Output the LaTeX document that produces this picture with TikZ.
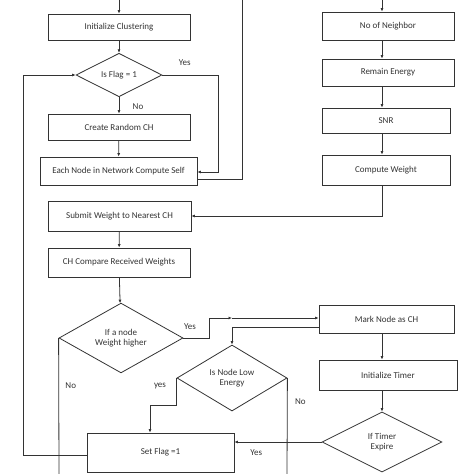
\documentclass[tikz,border=0pt]{standalone}
\usepackage{fontspec}
\setmainfont{Carlito}
\usetikzlibrary{shapes.geometric, arrows.meta}

\tikzset{
	blk/.style={draw, rectangle, inner sep=1pt, font=\fontsize{9}{10.5}\selectfont},
	dec/.style={draw, diamond, inner sep=0pt, align=center, font=\fontsize{9}{10.5}\selectfont},
	arr/.style={-{Latex[length=3.5pt, width=3pt]}},
	lbl/.style={font=\fontsize{9}{10.5}\selectfont}
}

\begin{document}
\begin{tikzpicture}[x=1pt, y=-1pt, line width=0.8pt, draw=black!80, color=black!80]
	\useasboundingbox (0,0) rectangle (474,474);

	% left column
	\node [blk, minimum width=142pt, minimum height=26pt] (init) at (119, 27) {Initialize Clustering};
	\node [dec, minimum width=86pt, minimum height=42pt] (flag) at (119, 75) {Is Flag = 1};
	\node [blk, minimum width=142pt, minimum height=26pt] (random) at (119, 127) {Create Random CH};
	\node [blk, minimum width=157pt, minimum height=28pt] (each) at (118.5, 171) {Each Node in Network Compute Self};
	\node [blk, minimum width=143pt, minimum height=30pt] (submit) at (119.5, 216) {Submit Weight to Nearest CH};
	\node [blk, minimum width=142pt, minimum height=29pt] (compare) at (119, 262.5) {CH Compare Received Weights};
	\node [dec, minimum width=124pt, minimum height=66pt] (higher) at (121, 338) {If a node\\Weight higher};
	\node [dec, minimum width=110pt, minimum height=66pt] (low) at (232, 378) {Is Node Low\\Energy};
	\node [blk, minimum width=147pt, minimum height=39pt] (setflag) at (160.5, 452.5) {Set Flag =1};

	% right column
	\node [blk, minimum width=132pt, minimum height=28pt] (neigh) at (388, 26) {No of Neighbor};
	\node [blk, minimum width=132pt, minimum height=27pt] (energy) at (388, 72.5) {Remain Energy};
	\node [blk, minimum width=128pt, minimum height=25pt] (snr) at (386, 120.5) {SNR};
	\node [blk, minimum width=128pt, minimum height=30pt] (weight) at (386, 170) {Compute Weight};
	\node [blk, minimum width=135pt, minimum height=28pt] (mark) at (386.5, 319) {Mark Node as CH};
	\node [blk, minimum width=138pt, minimum height=30pt] (timer) at (388, 375) {Initialize Timer};
	\node [dec, minimum width=120pt, minimum height=60pt] (expire) at (382, 442) {If Timer\\Expire};

	\coordinate (inL) at (119, 0);
	\coordinate (inR) at (382, 0);
	\coordinate (outM) at (242, 0);
	\coordinate (rc) at (382, 0);
	\coordinate (ymid) at (232, 318);
	\coordinate (endL) at (59, 474);
	\coordinate (endM) at (287, 474);

	% left flow
	\draw [arr] (inL) -- (init);
	\draw [arr] (init) -- (flag);
	\draw [arr] (flag) -- (random) node [lbl, pos=0.55, right=10pt] {No};
	\draw [arr] (random) -- (each);
	\draw [arr] (flag.east) -- ++(56,0) node [lbl, above=6pt, pos=0.4] {Yes} |- ([yshift=-1pt]each.east);
	\draw ([yshift=-8pt]each.east) -| (outM);
	\draw [arr] (setflag.west |- 0,455) -- (23,455) |- (flag.west);

	% right flow
	\draw [arr] (inR) -- (neigh.north -| rc);
	\draw [arr] (neigh.south -| rc) -- (energy.north -| rc);
	\draw [arr] (energy.south -| rc) -- (snr.north -| rc);
	\draw [arr] (snr.south -| rc) -- (weight.north -| rc);
	\draw [arr] (weight.south -| rc) |- (submit.east);

	% cluster head selection
	\draw [arr] (submit) -- (compare);
	\draw [arr] (compare) -- (higher);
	\draw [arr] (higher.east) -- ++(26,0) node [lbl, above=5pt, pos=0.25] {Yes} |- (ymid);
	\draw [arr] (ymid) -- (mark.west |- ymid);
	\draw [arr] ([yshift=-8pt]mark.west) -| (low.north);
	\draw [arr] (mark.south -| rc) -- (timer.north -| rc);
	\draw [arr] (timer.south -| rc) -- (expire.north);
	\draw [arr] (expire.west) -- (setflag.east |- expire.west) node [lbl, pos=0.75, below=4pt] {Yes};
	\draw [arr] (low.west) -- ++(0,27) -| ([xshift=-10.5pt]setflag.north);
	\node [lbl] (lblyes) at (160, 386) {yes};
	\draw (low.east) -- (endM) node [lbl, pos=0.25, right=4pt] {No};
	\draw (higher.west) -- (endL) node [lbl, pos=0.35, right=3pt] {No};
\end{tikzpicture}
\end{document}
